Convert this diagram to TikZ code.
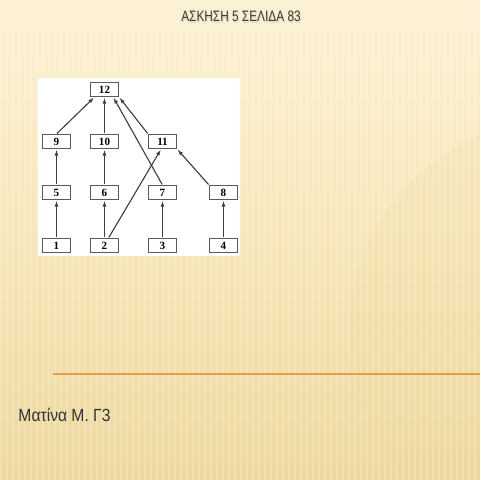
\documentclass[tikz,border=0pt]{standalone}
\usepackage{fontspec}
\setmainfont{Liberation Serif}
\newfontfamily\slidefont{Liberation Sans}
\usepackage{graphicx}
\usetikzlibrary{arrows.meta}

\definecolor{creamtop}{HTML}{FCF1D4}
\definecolor{creammid}{HTML}{F7E6B8}
\definecolor{goldbot}{HTML}{EDD89F}
\definecolor{ruleline}{HTML}{DCA24C}
\definecolor{titletext}{HTML}{3E382C}
\definecolor{boxline}{HTML}{5A5A5A}

\tikzset{every picture/.style={line width=0.75pt}}
\tikzset{
  numbox/.style={draw=boxline, fill=white, line width=0.75pt, minimum width=21pt, minimum height=10.5pt, inner sep=0pt, font=\fontsize{8.3}{9}\selectfont\bfseries},
  uparrow/.style={-{Latex[length=4.5pt,width=3pt]}, draw=black!75, line width=0.85pt, shorten >=0.5pt, shorten <=0.5pt}
}

\begin{document}
\begin{tikzpicture}[x=0.75pt,y=0.75pt,yscale=-1,xscale=1]
\useasboundingbox (0,0) rectangle (480,480);

% background
\shade[top color=creamtop, bottom color=goldbot, middle color=creammid] (0,0) rectangle (480,480);
\fill[creamtop] (0,0) rectangle (480,30);
\begin{scope}
  \clip (0,30) rectangle (480,480);
  \fill[goldbot, opacity=0.2] (560,330) circle [radius=210];
\end{scope}
\foreach \x in {0,6,...,480}
  \fill[white, opacity=0.18] (\x,30) rectangle ++(2.5,450);

% rule line
\draw[ruleline, line width=0.8pt] (53,374) -- (480,374);

% title
\node[text=black!25, opacity=0.5] at (242,18) {\slidefont\fontsize{9.45}{10}\selectfont\scalebox{0.94}[1.2]{ΑΣΚΗΣΗ 5 ΣΕΛΙΔΑ 83}};
\node (title) at (241,16) {\slidefont\fontsize{9.45}{10}\selectfont\color{titletext}\scalebox{0.94}[1.2]{ΑΣΚΗΣΗ 5 ΣΕΛΙΔΑ 83}};

% name
\node[anchor=west, inner sep=0pt] (name) at (18,415) {\slidefont\fontsize{13.2}{14}\selectfont\color{black!80}\scalebox{0.89}[1]{Ματίνα Μ. Γ3}};

% diagram panel
\fill[white] (38,78) rectangle (240,256);

% Text Node
\node[numbox] (n12) at (104.5,89.5) {12};
% Text Node
\node[numbox] (n9) at (56.5,141.5) {9};
\node[numbox] (n10) at (104.5,141.5) {10};
\node[numbox] (n11) at (162.5,141.5) {11};
% Text Node
\node[numbox] (n5) at (56.5,192.5) {5};
\node[numbox] (n6) at (104.5,192.5) {6};
\node[numbox] (n7) at (162.5,192.5) {7};
\node[numbox] (n8) at (223.5,192.5) {8};
% Text Node
\node[numbox] (n1) at (56.5,245.5) {1};
\node[numbox] (n2) at (104.5,245.5) {2};
\node[numbox] (n3) at (162.5,245.5) {3};
\node[numbox] (n4) at (223.5,245.5) {4};

% Connection
\draw[uparrow] (n1) -- (n5);
\draw[uparrow] (n5) -- (n9);
\draw[uparrow] (n9.north) -- ([xshift=-7.5pt]n12.south);
% Connection
\draw[uparrow] (n2) -- (n6);
\draw[uparrow] (n6) -- (n10);
\draw[uparrow] (n10) -- (n12);
\draw[uparrow] ([xshift=3pt]n2.north) -- ([xshift=-1pt]n11.south);
% Connection
\draw[uparrow] (n3) -- (n7);
\draw[uparrow] (n7.north) -- ([xshift=6.5pt]n12.south);
\draw[uparrow] (n11.north west) -- (n12.south east);
% Connection
\draw[uparrow] (n4) -- (n8);
\draw[uparrow] (n8.north west) -- (n11.south east);

\end{tikzpicture}
\end{document}
